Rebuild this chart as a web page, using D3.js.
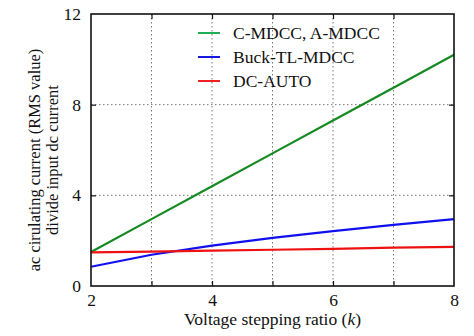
<!DOCTYPE html>
<html>
<head>
<meta charset="utf-8">
<script src="https://cdn.jsdelivr.net/npm/d3@7"></script>
<style>
  body { margin: 0; background: #fff; }
  text { font-family: "Liberation Serif", "Times New Roman", serif; fill: #111; }
</style>
</head>
<body>
<div id="chart"></div>
<script>
// voltage stepping ratio k
var kValues = [2, 3, 4, 5, 6, 7, 8];
// ac circulating current (RMS) / input dc current
var cMdcc   = [1.50, 2.95, 4.40, 5.85, 7.30, 8.75, 10.20];
var buckTl  = [0.85, 1.38, 1.78, 2.12, 2.42, 2.70, 2.95];
var dcAuto  = [1.48, 1.52, 1.56, 1.60, 1.64, 1.69, 1.73];

var xTicks = [2, 4, 6, 8];
var yTicks = [0, 4, 8, 12];
var xGrid = [3, 4, 5, 6, 7];
var yGrid = [4, 8];

var seriesNames = ["C-MDCC, A-MDCC", "Buck-TL-MDCC", "DC-AUTO"];
var seriesValues = [cMdcc, buckTl, dcAuto];
var lineColors = ["#158a22", "#1010ee", "#ee1111"];
var legendColors = ["#1fae55", "#1818e0", "#ee2222"];

var width = 474, height = 336;
var margin = {left: 91, right: 20, top: 14, bottom: 50};
var drawWidth = width - margin.left - margin.right;
var drawHeight = height - margin.top - margin.bottom;

var svg = d3.select("#chart").append("svg")
    .attr("width", width)
    .attr("height", height);

var canvas = svg.append("g")
    .attr("transform", "translate(" + margin.left + "," + margin.top + ")");

var x = d3.scaleLinear().domain([2, 8]).range([0, drawWidth]);
var y = d3.scaleLinear().domain([0, 12]).range([drawHeight, 0]);

// dotted grid
canvas.selectAll(".vgrid").data(xGrid).enter().append("line")
    .attr("x1", d => x(d)).attr("x2", d => x(d))
    .attr("y1", 0).attr("y2", drawHeight)
    .attr("stroke", "#777").attr("stroke-width", 1)
    .attr("stroke-dasharray", "1.5,2.5");
canvas.selectAll(".hgrid").data(yGrid).enter().append("line")
    .attr("x1", 0).attr("x2", drawWidth)
    .attr("y1", d => y(d)).attr("y2", d => y(d))
    .attr("stroke", "#777").attr("stroke-width", 1)
    .attr("stroke-dasharray", "1.5,2.5");

// inward ticks on all four sides
function tickStyle(g) {
  g.select(".domain").remove();
  g.selectAll("line").attr("stroke", "#111").attr("stroke-width", 1.2);
}
canvas.append("g").attr("transform", "translate(0," + drawHeight + ")")
    .call(d3.axisTop(x).tickValues(xGrid).tickSize(5).tickFormat(""))
    .call(tickStyle);
canvas.append("g")
    .call(d3.axisBottom(x).tickValues(xGrid).tickSize(5).tickFormat(""))
    .call(tickStyle);
canvas.append("g").attr("transform", "translate(" + drawWidth + ",0)")
    .call(d3.axisLeft(y).tickValues(yGrid).tickSize(5).tickFormat(""))
    .call(tickStyle);
canvas.append("g")
    .call(d3.axisRight(y).tickValues(yGrid).tickSize(5).tickFormat(""))
    .call(tickStyle);

// tick labels
var xAxis = canvas.append("g").attr("transform", "translate(0," + drawHeight + ")")
    .call(d3.axisBottom(x).tickValues(xTicks).tickFormat(d3.format("d"))
      .tickSize(0).tickPadding(8));
xAxis.select(".domain").remove();
xAxis.selectAll("text").attr("font-size", 17.5).attr("fill", "#111");

var yAxis = canvas.append("g")
    .call(d3.axisLeft(y).tickValues(yTicks).tickFormat(d3.format("d"))
      .tickSize(0).tickPadding(10));
yAxis.select(".domain").remove();
yAxis.selectAll("text").attr("font-size", 17.5).attr("fill", "#111");

// data lines
var line = d3.line()
    .x(function(d, i) { return x(kValues[i]); })
    .y(function(d) { return y(d); });

seriesValues.forEach(function(vals, i) {
  canvas.append("path")
      .datum(vals)
      .attr("fill", "none")
      .attr("stroke", lineColors[i])
      .attr("stroke-width", 2.2)
      .attr("d", line);
});

// frame
canvas.append("rect")
    .attr("x", 0).attr("y", 0)
    .attr("width", drawWidth).attr("height", drawHeight)
    .attr("fill", "none").attr("stroke", "#111").attr("stroke-width", 1.6);

// legend
var legend = canvas.append("g").attr("transform", "translate(107,19)");
seriesNames.forEach(function(name, i) {
  var ly = i * 24;
  legend.append("line")
      .attr("x1", 0).attr("x2", 22)
      .attr("y1", ly).attr("y2", ly)
      .attr("stroke", legendColors[i]).attr("stroke-width", 2);
  legend.append("text")
      .attr("x", 35).attr("y", ly + 6)
      .attr("font-size", 17.5)
      .text(name);
});

// axis titles
var xt = svg.append("text")
    .attr("x", margin.left + drawWidth / 2)
    .attr("y", 325)
    .attr("text-anchor", "middle")
    .attr("font-size", 17.5);
xt.append("tspan").text("Voltage stepping ratio (");
xt.append("tspan").attr("font-style", "italic").text("k");
xt.append("tspan").text(")");

var yt = svg.append("g")
    .attr("transform", "translate(40,160) rotate(-90)");
yt.append("text").attr("text-anchor", "middle").attr("y", 0)
    .attr("font-size", 16.5).text("ac cirulating current (RMS value)");
yt.append("text").attr("text-anchor", "middle").attr("y", 18)
    .attr("font-size", 16.5).text("divide input dc current");
</script>
</body>
</html>
